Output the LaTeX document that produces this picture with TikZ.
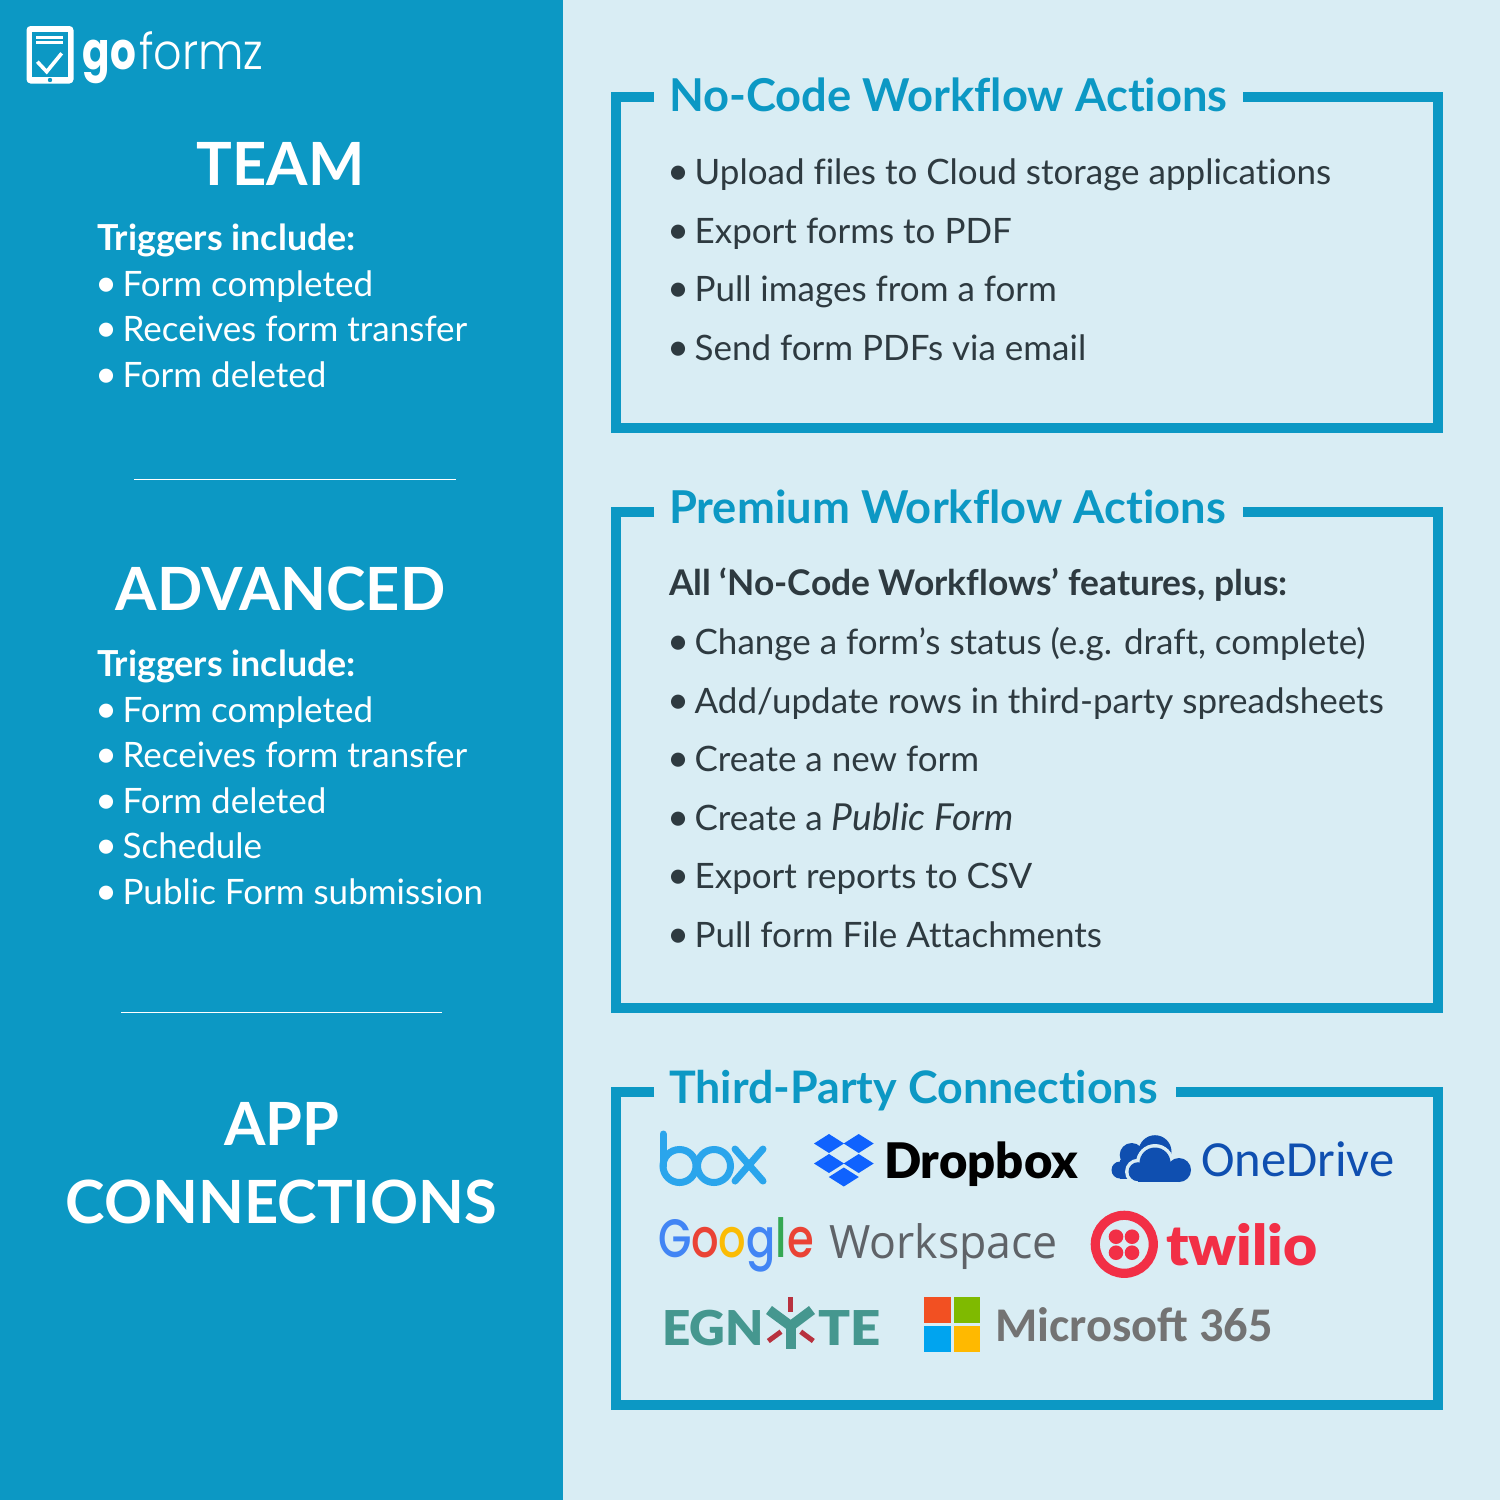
\documentclass[tikz,border=0pt]{standalone}
\usepackage{fontspec}
\setmainfont[Ligatures=NoCommon]{Lato}
\newfontfamily\logofont{Poppins}
\newfontfamily\popmed{Poppins Medium}
\newfontfamily\poplight{Poppins Light}
\newfontfamily\blackfont{Lato Black}
\newfontfamily\msfont{Carlito}
\newfontfamily\wsfont{Open Sans}
\definecolor{goblue}{HTML}{0C98C4}
\definecolor{paleblue}{HTML}{D9EDF4}
\definecolor{inktext}{HTML}{2E3A40}
\definecolor{egnteal}{HTML}{45978F}
\definecolor{egnred}{HTML}{B8323F}
\definecolor{twred}{HTML}{F22F46}
\definecolor{drivblue}{HTML}{0F4FB0}
\definecolor{dropblue}{HTML}{0F62FE}
\definecolor{boxblue}{HTML}{2AA5EC}
\definecolor{wsgrey}{HTML}{5F6368}
\definecolor{msgrey}{HTML}{737373}
\newcommand{\fsz}[1]{\fontsize{#1}{#1}\selectfont}
\newcommand{\itm}[1]{\makebox[12.8pt][l]{\hspace{-0.6pt}\fsz{19}•}#1}
\tikzset{
	x=0.5pt, y=-0.5pt,
	txt/.style={anchor=base west, inner sep=0pt, outer sep=0pt},
	sidehead/.style={anchor=base, inner sep=0pt, white, font=\bfseries\fsz{29.8}},
	sideitem/.style={txt, white, font=\fsz{17.5}},
	sidebold/.style={txt, white, font=\bfseries\fsz{17.9}},
	framehead/.style={txt, goblue, font=\bfseries\fsz{22.4}},
	frameitem/.style={txt, inktext, font=\fsz{17.5}},
	frameline/.style={goblue, line width=5pt},
	sideline/.style={white, line width=0.5pt},
}
\begin{document}
\begin{tikzpicture}
		%%%%% START %%%%%
		\useasboundingbox (0, 0) rectangle (1500, 1500);
		\fill[paleblue] (0, 0) rectangle (1500, 1500);
		\fill[goblue] (0, 0) rectangle (563, 1500);
		
		% logo
		\fill[white, rounded corners=2pt] (26.5, 26) rectangle (73.5, 83.5);
		\fill[goblue] (32, 32) rectangle (68, 77);
		\draw[white, line width=1.2pt] (36, 37.5) -- (62.7, 37.5);
		\draw[white, line width=1.2pt] (36, 42.5) -- (62.7, 42.5);
		\draw[white, line width=1.8pt] (37.3, 61.7) -- (46.7, 71.7) -- (61.7, 53.3);
		\fill[goblue] (50, 80) circle (2.2);
		\node[txt, white, font=\logofont\bfseries\fsz{26}] (logogo) at (83, 69) {\scalebox{0.78}[1]{go}};
		\node[txt, white, font=\poplight\fsz{25}] (logoformz) at (139, 69) {\scalebox{0.89}[1]{formz}};
		
		% left column
		\node[sidehead] (teamhead) at (280.5, 185) {TEAM};
		\node[sidebold] (teamtrig) at (97, 250) {Triggers include:};
		\node[sideitem] (teamone) at (97, 296) {\itm{Form completed}};
		\node[sideitem] (teamtwo) at (97, 341) {\itm{Receives form transfer}};
		\node[sideitem] (teamthree) at (97, 387) {\itm{Form deleted}};
		\draw[sideline] (134, 479) -- (456, 479);
		
		\node[sidehead] (advhead) at (280.5, 610) {ADVANCED};
		\node[sidebold] (advtrig) at (97, 676) {Triggers include:};
		\node[sideitem] (advone) at (97, 722) {\itm{Form completed}};
		\node[sideitem] (advtwo) at (97, 767) {\itm{Receives form transfer}};
		\node[sideitem] (advthree) at (97, 813) {\itm{Form deleted}};
		\node[sideitem] (advfour) at (97, 858) {\itm{Schedule}};
		\node[sideitem] (advfive) at (97, 904) {\itm{Public Form submission}};
		\draw[sideline] (121, 1012) -- (442, 1012);
		
		\node[sidehead] (apphead) at (282, 1145) {APP};
		\node[sidehead] (connhead) at (281.5, 1223) {CONNECTIONS};
		
		% first frame
		\draw[frameline] (654, 97) -- (616, 97) -- (616, 428) -- (1438, 428) -- (1438, 97) -- (1243, 97);
		\node[framehead, font=\bfseries\fsz{22.65}] (nocode) at (669, 111) {No-Code Workflow Actions};
		\node[frameitem] (ncone) at (669, 184) {\itm{Upload files to Cloud storage applications}};
		\node[frameitem] (nctwo) at (669, 243) {\itm{Export forms to PDF}};
		\node[frameitem] (ncthree) at (669, 301) {\itm{Pull images from a form}};
		\node[frameitem] (ncfour) at (669, 360) {\itm{Send form PDFs via email}};
		
		% second frame
		\draw[frameline] (654, 512) -- (616, 512) -- (616, 1008) -- (1438, 1008) -- (1438, 512) -- (1243, 512);
		\node[framehead, font=\bfseries\fsz{22.65}] (premium) at (669, 523) {Premium Workflow Actions};
		\node[frameitem, font=\bfseries\fsz{17.7}] (premall) at (669, 595) {All ‘No-Code Workflows’ features, plus:};
		\node[frameitem] (prone) at (669, 654) {\itm{Change a form’s status (e.g. draft, complete)}};
		\node[frameitem] (prtwo) at (669, 713) {\itm{Add/update rows in third-party spreadsheets}};
		\node[frameitem] (prthree) at (669, 771) {\itm{Create a new form}};
		\node[frameitem] (prfour) at (669, 830) {\itm{Create a {\fsz{18.6}\itshape Public Form}}};
		\node[frameitem] (prfive) at (669, 888) {\itm{Export reports to CSV}};
		\node[frameitem] (prsix) at (669, 947) {\itm{Pull form File Attachments}};
		
		% third frame
		\draw[frameline] (654, 1092) -- (616, 1092) -- (616, 1405) -- (1438, 1405) -- (1438, 1092) -- (1176, 1092);
		\node[framehead] (thirdparty) at (669, 1103) {Third-Party Connections};
		
		% box
		\draw[boxblue, line width=3.5pt, line cap=round] (663, 1134) -- (663, 1166);
		\draw[boxblue, line width=3.5pt] (679.5, 1166) circle (16.5);
		\draw[boxblue, line width=3.5pt] (714, 1166) circle (16.5);
		\draw[boxblue, line width=3.5pt, line cap=round] (735, 1149) -- (763, 1181);
		\draw[boxblue, line width=3.5pt, line cap=round] (763, 1149) -- (735, 1181);
		
		% dropbox
		\foreach \cx/\cy in {829/1143.5, 858.7/1143.5, 829/1163.5, 858.7/1163.5, 843.8/1177}
			\fill[dropblue] (\cx-15, \cy) -- (\cx, \cy-9.5) -- (\cx+15, \cy) -- (\cx, \cy+9.5) -- cycle;
		\node[txt, black, font=\blackfont\fsz{24.5}] (dropboxtxt) at (884, 1178) {Dropbox};
		
		% onedrive
		\foreach \cx/\cy/\cr in {1155/1151.7/16.5, 1131.7/1155/12, 1120/1170/8.5}
			\fill[drivblue] (\cx, \cy) circle (\cr);
		\fill[drivblue] (1120, 1160) rectangle (1160, 1178.5);
		\foreach \cx/\cy/\cr in {1155/1163/15.5, 1179/1170/12, 1138/1171.7/9.5}
			\fill[paleblue] (\cx, \cy) circle (\cr+3.5);
		\fill[paleblue] (1128, 1165) rectangle (1191, 1184);
		\foreach \cx/\cy/\cr in {1155/1163/15.5, 1179/1170/12, 1138/1171.7/9.5}
			\fill[drivblue] (\cx, \cy) circle (\cr);
		\fill[drivblue] (1138, 1166) rectangle (1179, 1181.5);
		\node[txt, drivblue, font=\msfont\fsz{25.3}] (onedrivetxt) at (1201, 1176) {OneDrive};
		
		% google workspace
		\node[txt, font=\popmed\fsz{27}] (googletxt) at (658, 1257) {\scalebox{0.8}[1]{\textcolor[HTML]{4285F4}{G}\textcolor[HTML]{EA4335}{o}\textcolor[HTML]{FBBC05}{o}\textcolor[HTML]{4285F4}{g}\textcolor[HTML]{34A853}{l}\textcolor[HTML]{EA4335}{e}}};
		\node[txt, wsgrey, font=\wsfont\fsz{23}] (workspacetxt) at (829, 1258) {\scalebox{0.97}[1]{Workspace}};
		
		% twilio
		\draw[twred, line width=4.6pt] (1124.3, 1244.3) circle (29);
		\foreach \cx/\cy in {1116/1236.7, 1132/1236.7, 1116/1252.7, 1132/1252.7}
			\fill[twred] (\cx, \cy) circle (7.3);
		\node[txt, twred, font=\blackfont\fsz{28}] (twiliotxt) at (1166, 1265) {\scalebox{1.05}[1]{twilio}};
		
		% egnyte
		\node[txt, egnteal, font=\blackfont\fsz{24}] (egntxt) at (662, 1345) {\scalebox{1.03}[1]{EGN}};
		\node[txt, egnteal, font=\blackfont\fsz{24}] (tetxt) at (818, 1345) {\scalebox{1.1}[1]{TE}};
		\draw[egnteal, line width=5pt] (769, 1310) -- (790.7, 1326) -- (812, 1310);
		\draw[egnteal, line width=5pt] (790.7, 1326) -- (790.7, 1349);
		\draw[egnred, line width=2.5pt] (790.7, 1297) -- (790.7, 1312);
		\draw[egnred, line width=2.5pt] (768.3, 1341) -- (781, 1331.7);
		\draw[egnred, line width=2.5pt] (813.3, 1341) -- (800.7, 1331.7);
		
		% microsoft
		\fill[fill={rgb,255:red,242;green,80;blue,34}] (924.3, 1296.7) rectangle (950.7, 1323.3);
		\fill[fill={rgb,255:red,127;green,186;blue,0}] (953.7, 1296.7) rectangle (980.3, 1323.3);
		\fill[fill={rgb,255:red,0;green,164;blue,239}] (924.3, 1326) rectangle (950.7, 1352.3);
		\fill[fill={rgb,255:red,255;green,185;blue,0}] (953.7, 1326) rectangle (980.3, 1352.3);
		\node[txt, msgrey, font=\msfont\bfseries\fsz{24.2}] (mstxt) at (995, 1341) {Microsoft 365};
		
		%%%%% END %%%%%
	\end{tikzpicture}
\end{document}
